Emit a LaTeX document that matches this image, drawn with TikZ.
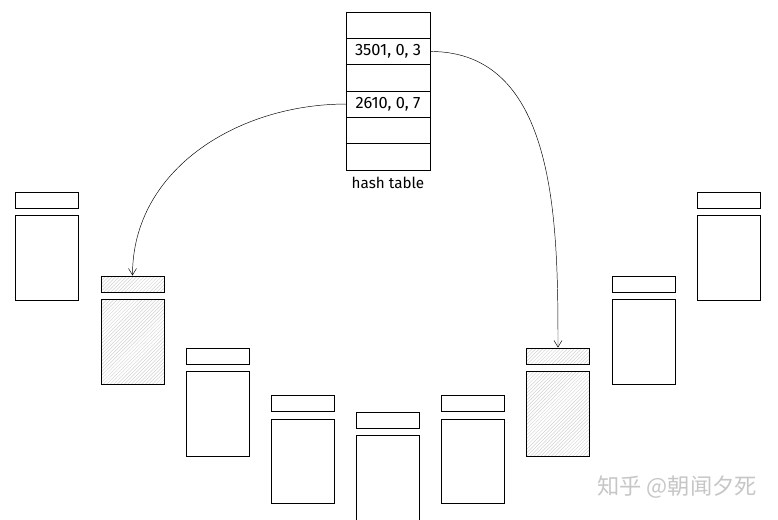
\documentclass[tikz,border=0pt]{standalone}
\usepackage{fontspec}
\setmainfont{Fira Sans}
\newfontfamily\cjk{Noto Sans CJK SC}
\usetikzlibrary{patterns,arrows.meta}

\begin{document}
\begin{tikzpicture}[x=0.03cm,y=-0.03cm,
    cell/.style={draw,minimum width=2.52cm,minimum height=0.79cm,inner sep=0pt,
        font=\fontsize{14}{16}\selectfont},
    hdr/.style={draw,thick,minimum width=1.89cm,minimum height=0.48cm,inner sep=0pt},
    blk/.style={draw,thick,minimum width=1.89cm,minimum height=2.54cm,inner sep=0pt},
    plain/.style={},
    hatch/.style={pattern=north east lines,pattern color=gray!35},
    ptr/.style={-{Straight Barb[length=2mm,width=2.4mm]}}]
    \useasboundingbox (0,0) rectangle (778,519);
    % hash table
    \foreach \i/\txt in {1/,2/{3501, 0, 3},3/,4/{2610, 0, 7},5/,6/}
        \node[cell] (row\i) at (388,{12+26.3*(\i-0.5)}) {\txt};
    \node[anchor=north,font=\fontsize{13}{15}\selectfont,yshift=-1mm] (tbl)
        at (row6.south) {hash table};
    % the slots
    \foreach \n/\x/\y/\sty in {1/47/200/plain,2/132.5/284/hatch,3/217.5/356/plain,
            4/302.5/403.5/plain,5/387.5/420/plain,6/472.5/403.5/plain,
            7/558/356/hatch,8/643.5/284/plain,9/728.5/200/plain}
    {
        \node[hdr,\sty] (hdr\n) at (\x,\y) {};
        \node[blk,\sty] (blk\n) at (\x,\y+58) {};
    }
    \draw[ptr] (row4.west) to[out=180,in=90] (hdr2.north);
    \draw[ptr] (row2.east) to[out=0,in=90] (hdr7.north);
    \node[text=gray!45,font=\cjk\fontsize{19}{21}\selectfont] (mark) at (677,487)
        {知乎 @朝闻夕死};
\end{tikzpicture}
\end{document}
